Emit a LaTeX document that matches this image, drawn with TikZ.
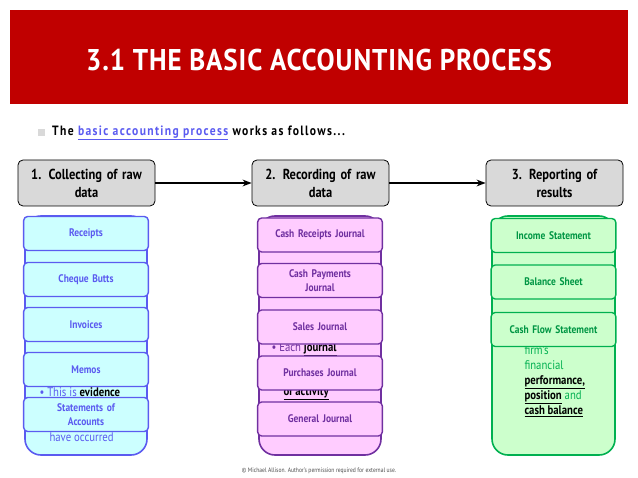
\documentclass[tikz,border=0pt]{standalone}
\usepackage{fontspec}
\setmainfont[FakeStretch=0.86]{PT Sans}
\newfontfamily\titlefont[LetterSpace=3,FakeStretch=0.9]{PT Sans}
\usetikzlibrary{arrows.meta}
\definecolor{redband}{HTML}{C00000}
\definecolor{bluel}{HTML}{5B5BF0}
\definecolor{bluef}{HTML}{CCFFFF}
\definecolor{purl}{HTML}{7030A0}
\definecolor{purf}{HTML}{FFCCFF}
\definecolor{grnl}{HTML}{00B050}
\definecolor{grnf}{HTML}{CCFFCC}
\definecolor{hdrf}{HTML}{D9D9D9}
\tikzset{
 hdr/.style={draw=black,thick,fill=hdrf,rounded corners=5pt,minimum width=137pt,minimum height=46pt,align=center,font=\bfseries\fontsize{14.5}{18}\selectfont,text width=132pt,inner xsep=2pt},
 col/.style={rounded corners=16pt,line width=1.6pt},
 inb/.style={rounded corners=4pt,line width=1.4pt,minimum width=122pt,minimum height=34pt,align=center,font=\bfseries\fontsize{11}{14}\selectfont,text width=118pt},
 bt/.style={anchor=west,font=\fontsize{12.5}{14}\selectfont},
 flow/.style={-{Stealth[length=9pt]},line width=2.8pt}
}
\begin{document}
\begin{tikzpicture}[x=1pt,y=-1pt]
\useasboundingbox (0,0) rectangle (638,478);
\fill[redband] (10,10) rectangle (628,104);
\node[text=white,font=\titlefont\bfseries\fontsize{30}{36}\selectfont] (title) at (319,60) {3.1 THE BASIC ACCOUNTING PROCESS};
\fill[gray!30] (38,129) rectangle (45,136) coordinate (bl);
\node[anchor=west,font=\bfseries\fontsize{13.5}{15}\selectfont,inner sep=0] (sub) at (52,133) {\addfontfeature{LetterSpace=10}The \textcolor{bluel}{\underline{basic accounting process}} works as follows...};
% headers
\node[hdr] (h1) at (86.5,183) {1. Collecting of raw\\data};
\node[hdr] (h2) at (320.5,183) {2. Recording of raw\\data};
\node[hdr] (h3) at (554.5,183) {3. Reporting of\\results};
\draw[flow] (h1) -- (h2);
\draw[flow] (h2) -- (h3);
% columns
\draw[col,draw=bluel,fill=bluef] (25,216) rectangle (147,455);
\draw[col,draw=purl,fill=purf] (259,216) rectangle (381,455);
\draw[col,draw=grnl,fill=grnf] (492,216) rectangle (615,455);
% background text
\node[bt,text=bluel] (t1) at (36,392) {\textbullet\ This is \textcolor{black}{\bfseries evidence}};
\node[bt,text=bluel] (t2) at (46,437) {have occurred};
\node[bt,text=purl] (t3) at (268,349) {\textbullet\ Each \textcolor{black}{\bfseries\underline{journal}}};
\node[bt,text=black] (t4) at (280,393) {\bfseries\underline{of activity}};
\node[bt,text=grnl,align=left,font=\fontsize{12.5}{15}\selectfont,anchor=north west] (t5) at (521,342) {firm's\\financial\\\textcolor{black}{\bfseries\underline{performance,}}\\\textcolor{black}{\bfseries\underline{position}} and\\\textcolor{black}{\bfseries\underline{cash balance}}};
% inner boxes
\foreach \n/\y/\t in {a1/233.5/Receipts,a2/279.5/Cheque Butts,a3/324.5/Invoices,a4/369.5/Memos,a5/414.5/Statements of\\Accounts}
  \node[inb,draw=bluel,fill=bluef,text=bluel] (\n) at (86,\y) {\t};
\foreach \n/\y/\t in {b1/235/Cash Receipts Journal,b2/280.5/Cash Payments\\Journal,b3/327/Sales Journal,b4/373/Purchases Journal,b5/419/General Journal}
  \node[inb,draw=purl,fill=purf,text=purl] (\n) at (320,\y) {\t};
\foreach \n/\y/\t in {c1/235.5/Income Statement,c2/282/Balance Sheet,c3/329.5/Cash Flow Statement}
  \node[inb,draw=grnl,fill=grnf,text=grnl!85!black] (\n) at (553.5,\y) {\t};
\node[font=\fontsize{6.5}{7}\selectfont,text=black!70] (copy) at (319,471) {© Michael Allison. Author's permission required for external use.};
\end{tikzpicture}
\end{document}
